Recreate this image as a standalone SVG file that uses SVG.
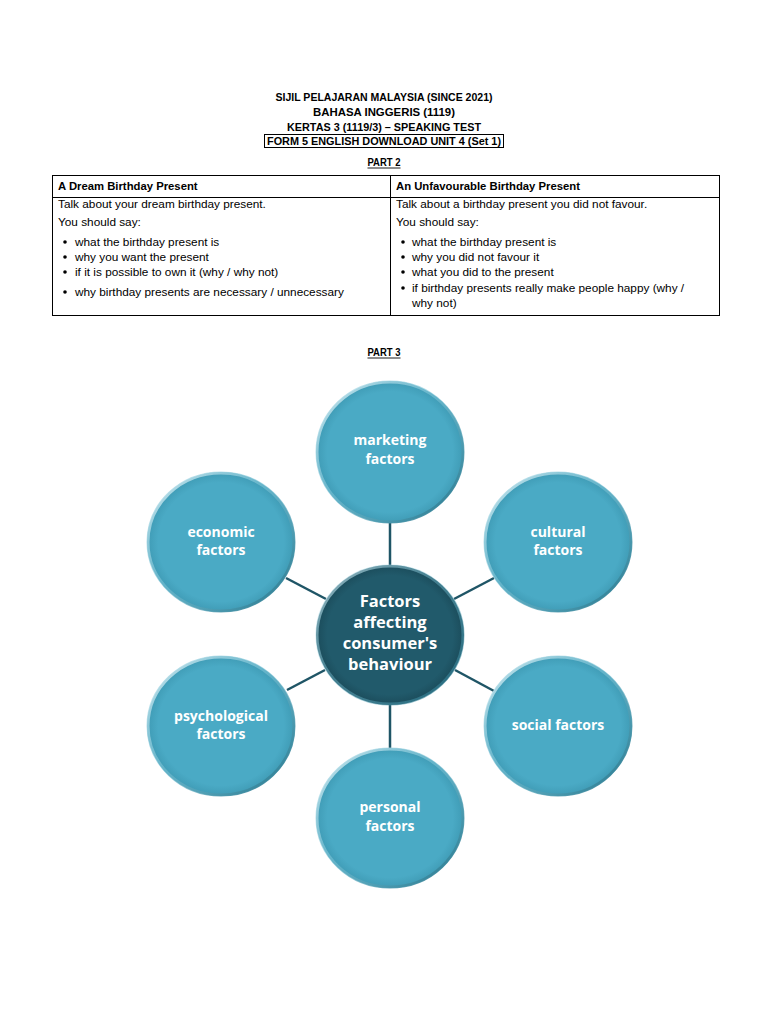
<svg xmlns="http://www.w3.org/2000/svg" width="768" height="1024" viewBox="0 0 768 1024">
<style>
.hd{font-family:"Liberation Sans",Arial,sans-serif;font-weight:bold;font-size:10.5px;fill:#000;text-anchor:middle}
.th{font-family:"Liberation Sans",Arial,sans-serif;font-weight:bold;font-size:11.3px;fill:#000}
.tx{font-family:"Liberation Sans",Arial,sans-serif;font-size:11.8px;fill:#000}
.nl{font-family:"Open Sans","Liberation Sans",sans-serif;font-weight:bold;font-size:14px;fill:#fff;text-anchor:middle}
.cl{font-family:"Open Sans","Liberation Sans",sans-serif;font-weight:bold;font-size:16.5px;fill:#fff;text-anchor:middle}
.node{fill:url(#gNode)}
.rim{fill:none;stroke:url(#gRim);stroke-width:3}
.conn{stroke:#1f5566;stroke-width:2.5}
</style>
<defs>
<radialGradient id="gNode" cx="0.5" cy="0.5" r="0.5">
<stop offset="0.85" stop-color="#4aaac5"/>
<stop offset="1" stop-color="#3f9bb5"/>
</radialGradient>
<radialGradient id="gCenter" cx="0.5" cy="0.5" r="0.5">
<stop offset="0.85" stop-color="#215a6b"/>
<stop offset="1" stop-color="#1b4c5b"/>
</radialGradient>
<linearGradient id="gRim" x1="0" y1="0" x2="1" y2="1">
<stop offset="0" stop-color="#d8eef4"/>
<stop offset="0.45" stop-color="#7cc3d6" stop-opacity="0.6"/>
<stop offset="1" stop-color="#1f6f85"/>
</linearGradient>
</defs>
<rect width="768" height="1024" fill="#fff"/>

<g id="header">
<text class="hd" x="384" y="101" textLength="217" lengthAdjust="spacingAndGlyphs">SIJIL PELAJARAN MALAYSIA (SINCE 2021)</text>
<text class="hd" x="384" y="116" textLength="142" lengthAdjust="spacingAndGlyphs">BAHASA INGGERIS (1119)</text>
<text class="hd" x="384" y="131" textLength="194" lengthAdjust="spacingAndGlyphs">KERTAS 3 (1119/3) – SPEAKING TEST</text>
<rect x="264.5" y="134.5" width="239" height="13" fill="none" stroke="#000" stroke-width="1"/>
<text class="hd" x="384" y="145" textLength="234" lengthAdjust="spacingAndGlyphs">FORM 5 ENGLISH DOWNLOAD UNIT 4 (Set 1)</text>
<text class="hd" x="384" y="166" textLength="33" lengthAdjust="spacingAndGlyphs">PART 2</text>
<line x1="367.5" y1="168" x2="400.5" y2="168" stroke="#000" stroke-width="0.9"/>
</g>

<g id="table">
<rect x="52.5" y="175.5" width="667" height="140" fill="none" stroke="#000" stroke-width="1"/>
<line x1="52.5" y1="197.5" x2="719.5" y2="197.5" stroke="#000" stroke-width="1"/>
<line x1="390.5" y1="175.5" x2="390.5" y2="315.5" stroke="#000" stroke-width="1"/>
<text class="th" x="58" y="190">A Dream Birthday Present</text>
<text class="th" x="396" y="190">An Unfavourable Birthday Present</text>
<text class="tx" x="58" y="208">Talk about your dream birthday present.</text>
<text class="tx" x="58" y="226">You should say:</text>
<g fill="#000">
<circle cx="65" cy="242" r="1.8"/><circle cx="65" cy="257" r="1.8"/><circle cx="65" cy="272" r="1.8"/><circle cx="65" cy="292" r="1.8"/>
<circle cx="403" cy="242" r="1.8"/><circle cx="403" cy="257" r="1.8"/><circle cx="403" cy="272" r="1.8"/><circle cx="403" cy="288" r="1.8"/>
</g>
<text class="tx" x="75" y="246">what the birthday present is</text>
<text class="tx" x="75" y="261">why you want the present</text>
<text class="tx" x="75" y="276">if it is possible to own it (why / why not)</text>
<text class="tx" x="75" y="296">why birthday presents are necessary / unnecessary</text>
<text class="tx" x="396" y="208">Talk about a birthday present you did not favour.</text>
<text class="tx" x="396" y="226">You should say:</text>
<text class="tx" x="412" y="246">what the birthday present is</text>
<text class="tx" x="412" y="261">why you did not favour it</text>
<text class="tx" x="412" y="276">what you did to the present</text>
<text class="tx" x="412" y="292">if birthday presents really make people happy (why /</text>
<text class="tx" x="412" y="307">why not)</text>
</g>

<g id="part3-title">
<text class="hd" x="384" y="356" textLength="33" lengthAdjust="spacingAndGlyphs">PART 3</text>
<line x1="367.5" y1="358" x2="400.5" y2="358" stroke="#000" stroke-width="0.9"/>
</g>

<g id="connectors">
<line class="conn" x1="390" y1="520" x2="390" y2="570"/>
<line class="conn" x1="286" y1="578" x2="326" y2="599"/>
<line class="conn" x1="454" y1="599" x2="494" y2="578"/>
<line class="conn" x1="287" y1="690" x2="325" y2="670"/>
<line class="conn" x1="455" y1="670" x2="494" y2="691"/>
<line class="conn" x1="390" y1="700" x2="390" y2="750"/>
</g>

<g id="n-marketing">
<ellipse class="node" cx="390" cy="452" rx="74" ry="71"/>
<ellipse class="rim" cx="390" cy="452" rx="73" ry="70"/>
<text class="nl" x="390" y="445">marketing</text>
<text class="nl" x="390" y="464">factors</text>
</g>
<g id="n-economic">
<ellipse class="node" cx="221" cy="542" rx="74" ry="70"/>
<ellipse class="rim" cx="221" cy="542" rx="73" ry="69"/>
<text class="nl" x="221" y="537">economic</text>
<text class="nl" x="221" y="555">factors</text>
</g>
<g id="n-cultural">
<ellipse class="node" cx="558" cy="542" rx="74" ry="70"/>
<ellipse class="rim" cx="558" cy="542" rx="73" ry="69"/>
<text class="nl" x="558" y="537">cultural</text>
<text class="nl" x="558" y="555">factors</text>
</g>
<g id="n-center">
<ellipse cx="390" cy="635" rx="74" ry="70" fill="url(#gCenter)"/>
<ellipse class="rim" cx="390" cy="635" rx="73" ry="69" opacity="0.7"/>
<text class="cl" x="390" y="607">Factors</text>
<text class="cl" x="390" y="628">affecting</text>
<text class="cl" x="390" y="649">consumer's</text>
<text class="cl" x="390" y="670">behaviour</text>
</g>
<g id="n-psychological">
<ellipse class="node" cx="221" cy="726" rx="74" ry="70"/>
<ellipse class="rim" cx="221" cy="726" rx="73" ry="69"/>
<text class="nl" x="221" y="721">psychological</text>
<text class="nl" x="221" y="739">factors</text>
</g>
<g id="n-social">
<ellipse class="node" cx="558" cy="726" rx="74" ry="70"/>
<ellipse class="rim" cx="558" cy="726" rx="73" ry="69"/>
<text class="nl" x="558" y="730">social factors</text>
</g>
<g id="n-personal">
<ellipse class="node" cx="390" cy="818" rx="74" ry="70"/>
<ellipse class="rim" cx="390" cy="818" rx="73" ry="69"/>
<text class="nl" x="390" y="812">personal</text>
<text class="nl" x="390" y="831">factors</text>
</g>
</svg>
